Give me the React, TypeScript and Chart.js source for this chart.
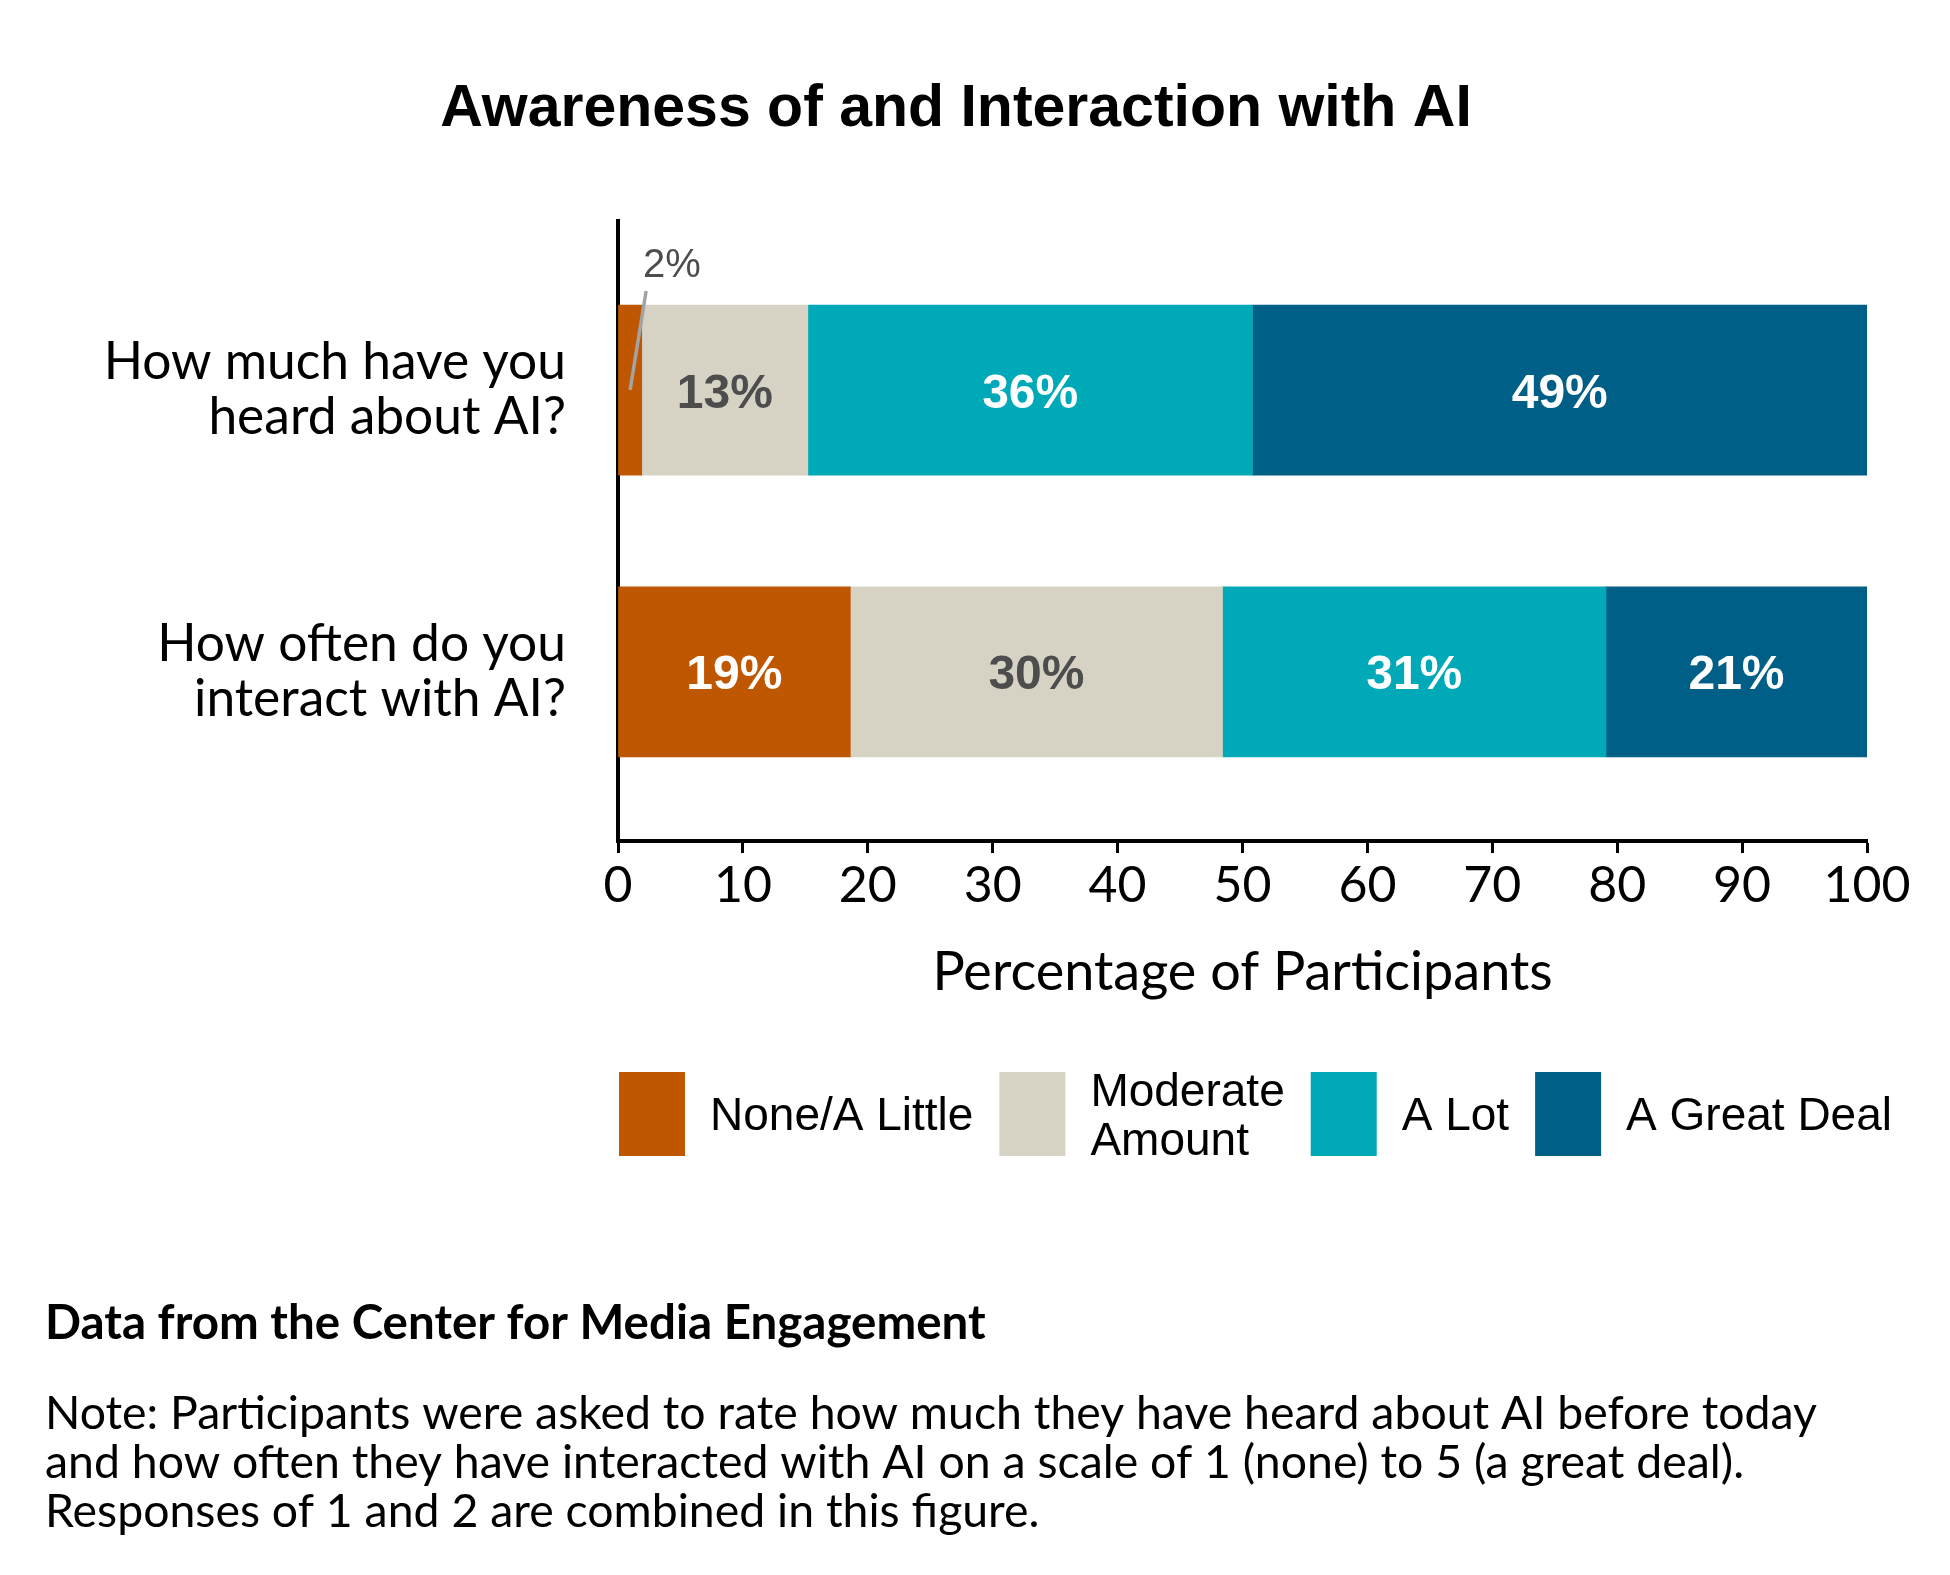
import React, { useEffect, useRef } from 'react';
import { Chart, registerables } from 'chart.js';

Chart.register(...registerables);

const chartTitle = 'Awareness of and Interaction with AI';
const questions = [
  ['How much have you', 'heard about AI?'],
  ['How often do you', 'interact with AI?'],
];
const responseLevels = ['None/A Little', 'Moderate Amount', 'A Lot', 'A Great Deal'];

// Share of participants (%) per question, one array per response level
const noneALittle = [1.9, 18.6];
const moderateAmount = [13.3, 29.8];
const aLot = [35.6, 30.7];
const aGreatDeal = [49.2, 20.9];

const xTickValues = [0, 10, 20, 30, 40, 50, 60, 70, 80, 90, 100];
const xAxisTitle = 'Percentage of Participants';
const sourceLine = 'Data from the Center for Media Engagement';
const noteLines = [
  'Note: Participants were asked to rate how much they have heard about AI before today',
  'and how often they have interacted with AI on a scale of 1 (none) to 5 (a great deal).',
  'Responses of 1 and 2 are combined in this figure.',
];

const levelColors = ['#BF5700', '#D6D2C4', '#00A9B7', '#005F86'];
const valueLabelColors = ['#ffffff', '#4d4d4d', '#ffffff', '#ffffff'];

const series = [noneALittle, moderateAmount, aLot, aGreatDeal];

const SANS = '"Liberation Sans", Arial, sans-serif';
const BODY = 'Lato, sans-serif';

function wrapText(ctx: CanvasRenderingContext2D, text: string, maxWidth: number): string[] {
  if (ctx.measureText(text).width <= maxWidth) return [text];
  const words = text.split(' ');
  const lines: string[] = [];
  let cur = '';
  for (const w of words) {
    const trial = cur ? cur + ' ' + w : w;
    if (cur && ctx.measureText(trial).width > maxWidth) {
      lines.push(cur);
      cur = w;
    } else {
      cur = trial;
    }
  }
  if (cur) lines.push(cur);
  return lines;
}

// Percent labels inside each segment; narrow segments get a callout above the bar
const valueLabels = {
  id: 'valueLabels',
  afterDatasetsDraw(chart: any) {
    const ctx: CanvasRenderingContext2D = chart.ctx;
    chart.data.datasets.forEach((_ds: any, d: number) => {
      const meta = chart.getDatasetMeta(d);
      meta.data.forEach((bar: any, i: number) => {
        const v = series[d][i];
        const text = Math.round(v) + '%';
        const { x, y, base, height } = bar.getProps(['x', 'y', 'base', 'height'], true);
        const left = Math.min(x, base);
        const right = Math.max(x, base);
        const cx = (left + right) / 2;
        ctx.save();
        ctx.textBaseline = 'alphabetic';
        if (right - left < 60) {
          const top = y - height / 2;
          ctx.strokeStyle = '#a3a3a3';
          ctx.lineWidth = 3.5;
          ctx.beginPath();
          ctx.moveTo(cx, y);
          ctx.lineTo(cx + 16, top - 14);
          ctx.stroke();
          ctx.font = `40px ${SANS}`;
          ctx.fillStyle = '#4d4d4d';
          ctx.textAlign = 'left';
          ctx.fillText(text, cx + 13, top - 28);
        } else {
          ctx.font = `bold 48px ${SANS}`;
          ctx.fillStyle = valueLabelColors[d];
          ctx.textAlign = 'center';
          ctx.fillText(text, cx, y + 17.5);
        }
        ctx.restore();
      });
    });
  },
};

// Title, legend and footnotes
const pageText = {
  id: 'pageText',
  afterDraw(chart: any) {
    const ctx: CanvasRenderingContext2D = chart.ctx;
    ctx.save();
    ctx.textBaseline = 'alphabetic';

    ctx.fillStyle = '#000';
    ctx.font = `bold 59px ${SANS}`;
    ctx.textAlign = 'center';
    ctx.fillText(chartTitle, 956, 126);

    // legend
    ctx.textAlign = 'left';
    ctx.font = `46px ${SANS}`;
    let lx = 619;
    const boxTop = 1072;
    const boxW = 66;
    const boxH = 84;
    const cy = boxTop + boxH / 2;
    responseLevels.forEach((name, d) => {
      ctx.fillStyle = levelColors[d];
      ctx.fillRect(lx, boxTop, boxW, boxH);
      lx += boxW + 25;
      const lines = wrapText(ctx, name, 300);
      ctx.fillStyle = '#000';
      lines.forEach((ln, k) => {
        ctx.fillText(ln, lx, cy + 16 + (k - (lines.length - 1) / 2) * 49);
      });
      lx += Math.max(...lines.map((l) => ctx.measureText(l).width)) + 26;
    });

    // footnotes
    ctx.fillStyle = '#000';
    ctx.font = `bold 47.5px ${BODY}`;
    ctx.fillText(sourceLine, 45, 1339);
    ctx.font = `46.4px ${BODY}`;
    noteLines.forEach((ln, k) => ctx.fillText(ln, 45, 1429 + k * 49));

    ctx.restore();
  },
};

export default function App() {
  const canvasRef = useRef<HTMLCanvasElement | null>(null);

  useEffect(() => {
    let chart: Chart | null = null;
    let cancelled = false;
    const ready = Promise.all([
      document.fonts.load('48px Lato'),
      document.fonts.load('bold 44px Lato'),
      document.fonts.load('46px "Liberation Sans"'),
      document.fonts.load('bold 48px "Liberation Sans"'),
    ]).catch(() => undefined);

    ready.then(() => {
      if (cancelled || !canvasRef.current) return;
      const datasets = series.map((vals, d) => ({
        label: responseLevels[d],
        data: vals.map((v, i) => ({ x: v, y: i })),
        backgroundColor: levelColors[d],
        borderWidth: 0,
        barThickness: 170,
        grouped: false,
      }));

      chart = new Chart(canvasRef.current, {
        type: 'bar',
        data: { datasets } as any,
        options: {
          indexAxis: 'y',
          responsive: false,
          animation: false,
          devicePixelRatio: 1,
          layout: { padding: { top: 221, right: 83, bottom: 570, left: 0 } },
          plugins: {
            legend: { display: false },
            title: { display: false },
            tooltip: { enabled: false },
          },
          scales: {
            x: {
              type: 'linear',
              min: 0,
              max: 100,
              stacked: true,
              afterBuildTicks: (s: any) => {
                s.ticks = xTickValues.map((v) => ({ value: v }));
              },
              afterFit: (s: any) => {
                s.height = 164;
              },
              ticks: {
                font: { family: BODY, size: 50, lineHeight: 1 },
                color: '#000',
                padding: 8,
                maxRotation: 0,
                autoSkip: false,
              },
              grid: {
                drawOnChartArea: false,
                drawTicks: true,
                tickLength: 12,
                tickWidth: 3,
                tickColor: '#000',
                color: '#000',
              },
              border: { display: true, color: '#000', width: 4 },
              title: {
                display: true,
                text: xAxisTitle,
                font: { family: BODY, size: 54, lineHeight: 1.2 },
                color: '#000',
                padding: { top: 0, bottom: 0 },
              },
            },
            y: {
              type: 'linear',
              min: -0.6,
              max: 1.6,
              reverse: true,
              offset: false,
              afterBuildTicks: (s: any) => {
                s.ticks = questions.map((_q, i) => ({ value: i }));
              },
              afterFit: (s: any) => {
                s.width = 618;
              },
              ticks: {
                font: { family: BODY, size: 51.5, lineHeight: 55 / 51.5 },
                color: '#000',
                padding: 52,
                autoSkip: false,
                callback: (v: any) => questions[Math.round(Number(v))] ?? '',
              },
              grid: { display: false, drawTicks: false, offset: false },
              border: { display: true, color: '#000', width: 4 },
            },
          },
        } as any,
        plugins: [valueLabels, pageText],
      });
    });

    return () => {
      cancelled = true;
      if (chart) chart.destroy();
    };
  }, []);

  return (
    <div style={{ position: 'absolute', left: 0, top: 0, width: 1950, height: 1575, background: '#fff' }}>
      <canvas ref={canvasRef} width={1950} height={1575} style={{ display: 'block' }} />
    </div>
  );
}
